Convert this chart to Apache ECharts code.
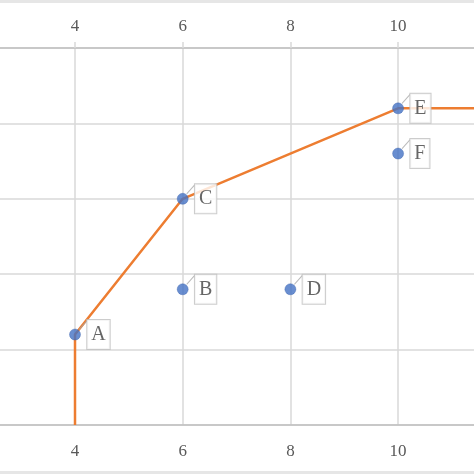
<!DOCTYPE html>
<html>
<head>
<meta charset="utf-8">
<script src="https://cdn.jsdelivr.net/npm/echarts@6/dist/echarts.min.js"></script>
<style>
html,body{margin:0;padding:0;background:#fff;}
#chart{width:474px;height:474px;}
</style>
</head>
<body>
<div id="chart"></div>
<script>
// Data
const xTicks = [4, 6, 8, 10];
const frontierX = [4, 4, 6, 10, 12];
const frontierY = [0, 6, 15, 21, 21];
const pointNames = ['A', 'B', 'C', 'D', 'E', 'F'];
const pointX = [4, 6, 6, 8, 10, 10];
const pointY = [6, 9, 15, 9, 21, 18];

const FONT = '"Liberation Serif", "DejaVu Serif", serif';
const chart = echarts.init(document.getElementById('chart'), null, {renderer: 'canvas'});

const pts = pointX.map((x, i) => ({name: pointNames[i], value: [x, pointY[i]]}));
const line = frontierX.map((x, i) => [x, frontierY[i]]);
const tickFmt = v => (xTicks.indexOf(v) >= 0 ? String(v) : '');

chart.setOption({
  animation: false,
  backgroundColor: '#ffffff',
  grid: {left: 0, right: 0, top: 48, bottom: 49, containLabel: false},
  xAxis: [
    {
      type: 'value', position: 'bottom', min: 2.607, max: 11.41,
      axisLine: {show: true, lineStyle: {color: '#bfbfbf', width: 1.5}},
      axisTick: {show: false},
      axisLabel: {show: true, margin: 18, color: '#595959', fontFamily: FONT, fontSize: 17,
        customValues: xTicks, formatter: tickFmt},
      splitLine: {show: true, showMinLine: false, showMaxLine: false,
        lineStyle: {color: '#d9d9d9', width: 1.5}}
    },
    {
      type: 'value', position: 'top', min: 2.607, max: 11.41,
      axisLine: {show: true, lineStyle: {color: '#bfbfbf', width: 1.5}},
      axisTick: {show: true, length: 6, customValues: xTicks, lineStyle: {color: '#d9d9d9', width: 1.5}},
      axisLabel: {show: true, margin: 13, color: '#595959', fontFamily: FONT, fontSize: 17,
        customValues: xTicks, formatter: tickFmt},
      splitLine: {show: false}
    }
  ],
  yAxis: {
    type: 'value', min: 0, max: 25, interval: 5,
    axisLine: {show: false}, axisTick: {show: false}, axisLabel: {show: false},
    splitLine: {show: true, lineStyle: {color: '#d9d9d9', width: 1.5}}
  },
  graphic: [
    {type: 'rect', left: 0, top: 0, shape: {width: 474, height: 3}, style: {fill: '#e6e6e6'}, z: 100},
    {type: 'rect', left: 0, top: 471, shape: {width: 474, height: 3}, style: {fill: '#e6e6e6'}, z: 100}
  ],
  series: [
    {
      type: 'line', data: line, showSymbol: false, symbol: 'none',
      lineStyle: {color: '#ED7D31', width: 2.5}, z: 2
    },
    {
      // callout pointers
      type: 'scatter', data: pts,
      symbol: 'path://M0,9 L8,0', symbolSize: [8, 9], symbolOffset: [8, -9.5],
      itemStyle: {color: 'none', borderColor: '#a6a6a6', borderWidth: 1},
      silent: true, z: 3
    },
    {
      type: 'scatter', data: pts, symbol: 'circle', symbolSize: 11,
      itemStyle: {color: '#4472C4', borderColor: '#3a62ad', borderWidth: 0.5}, z: 4,
      label: {
        show: true, position: 'right', distance: 6.5,
        formatter: p => p.name,
        fontFamily: FONT, fontSize: 20, color: '#404040',
        backgroundColor: '#ffffff', borderColor: '#bfbfbf', borderWidth: 1,
        padding: [4, 4, 3, 4], lineHeight: 22
      }
    }
  ]
});
</script>
</body>
</html>
